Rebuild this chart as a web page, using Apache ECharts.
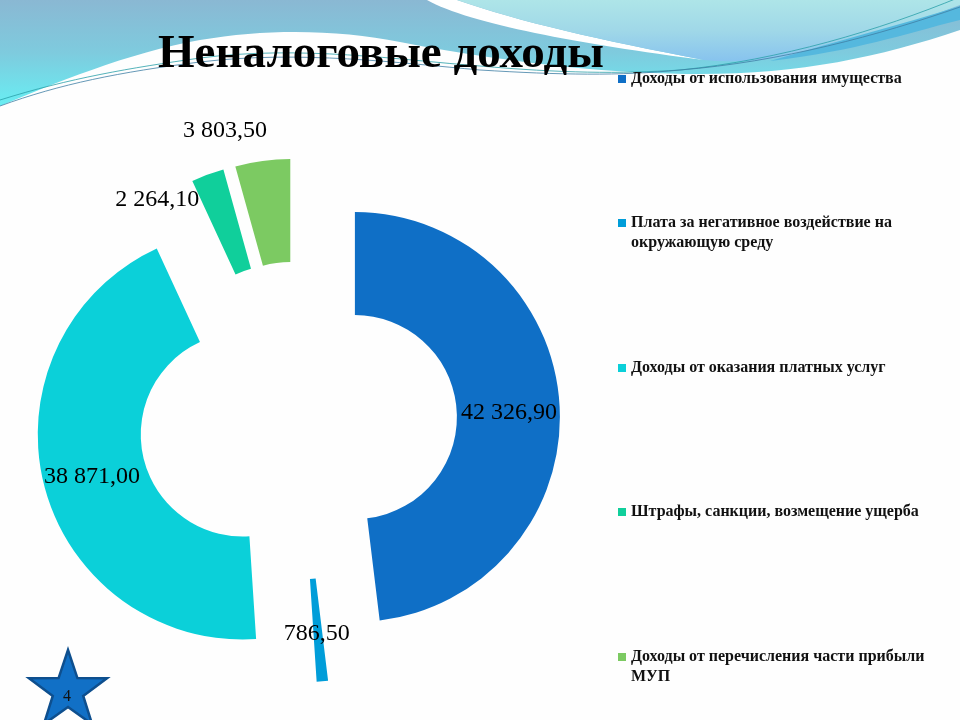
<!DOCTYPE html>
<html lang="ru">

<head>
    <meta charset="UTF-8">
    <title>Неналоговые доходы</title>
    <script src="https://cdn.jsdelivr.net/npm/echarts@6/dist/echarts.min.js"></script>
    <style>
        html, body { margin: 0; padding: 0; background: #fff; }
        #chart1 { width: 960px; height: 720px; }
    </style>
</head>

<body>
    <div id="chart1"></div>
    <script>
        const categories = [
            'Доходы от использования имущества',
            'Плата за негативное воздействие на\nокружающую среду',
            'Доходы от оказания платных услуг',
            'Штрафы, санкции, возмещение ущерба',
            'Доходы от перечисления части прибыли\nМУП'
        ];
        const values = [42326.9, 786.5, 38871, 2264.1, 3803.5];
        const colors = ['#0f6fc6', '#009dd9', '#0bd0d9', '#10cf9b', '#7cca62'];

        // moved labels of the small slices, px from their default place
        const labelShift = [[-2, 5], [-1, 1], [1, 4], [-67, -20], [-44, -78]];
        const legendTop = [64, 208, 353, 497, 642];

        const serif = '"Liberation Serif", serif';

        function formatValue(v) {
            const parts = v.toFixed(2).split('.');
            return parts[0].replace(/\B(?=(\d{3})+$)/g, ' ') + ',' + parts[1];
        }

        // square on the first line, empty point keeps the icon two lines tall
        const tallIcon = 'path://M0 0H8V8H0Z M0 28H0.01V28.01H0Z';

        // graphic component has no plain svg path type, so register one for the waves
        echarts.graphic.registerShape('wave', echarts.graphic.extendShape({
            shape: { d: [] },
            buildPath(ctx, shape) {
                shape.d.forEach((s) => {
                    if (s.length === 2) ctx.lineTo(s[0], s[1]);
                    else if (s.length === 6) ctx.bezierCurveTo(s[0], s[1], s[2], s[3], s[4], s[5]);
                    else if (s[0] === 'M') ctx.moveTo(s[1], s[2]);
                });
            }
        }));

        function starPoints(cx, cy, R, r) {
            const pts = [];
            for (let i = 0; i < 10; i++) {
                const a = Math.PI * i / 5;
                const d = i % 2 ? r : R;
                pts.push([cx + d * Math.sin(a), cy - d * Math.cos(a)]);
            }
            return pts;
        }

        const chart1 = echarts.init(document.getElementById('chart1'));
        chart1.setOption({
            animation: false,
            backgroundColor: '#fefefe',
            title: {
                text: 'Неналоговые доходы',
                left: 153,
                top: 26,
                textStyle: {
                    fontFamily: serif,
                    fontSize: 47,
                    fontWeight: 'bold',
                    color: '#000'
                }
            },
            legend: categories.map((name, i) => ({
                orient: 'vertical',
                left: 613,
                top: legendTop[i],
                itemWidth: 8,
                itemHeight: name.includes('\n') ? 28 : 8,
                selectedMode: false,
                data: [name.includes('\n') ? { name: name, icon: tallIcon } : { name: name, icon: 'rect' }],
                textStyle: {
                    fontFamily: serif,
                    fontSize: 16,
                    fontWeight: 'bold',
                    lineHeight: 20,
                    color: '#111'
                }
            })),
            graphic: [
                {
                    type: 'wave', z: -10, silent: true,
                    shape: { d: [['M', 0, 0], [960, 0], [960, 30], [880, 57, 800, 74, 700, 74], [620, 74, 520, 65, 400, 42], [340, 30, 270, 28, 200, 40], [130, 52, 50, 85, 0, 106], [0, 0]] },
                    style: {
                        fill: new echarts.graphic.LinearGradient(0, 0, 0, 1, [
                            { offset: 0, color: '#8ab8d3' },
                            { offset: 0.5, color: '#7ecbde' },
                            { offset: 1, color: '#68eef3' }
                        ])
                    }
                },
                {
                    type: 'wave', z: -9, silent: true,
                    shape: { d: [['M', 427, 0], [470, 24, 580, 44, 704, 60], [600, 40, 520, 22, 457, 0], [427, 0]] },
                    style: { fill: '#ffffff' }
                },
                {
                    type: 'wave', z: -9, silent: true,
                    shape: { d: [['M', 457, 0], [520, 22, 600, 40, 704, 60], [790, 68, 880, 35, 960, 5], [960, 0], [457, 0]] },
                    style: {
                        fill: new echarts.graphic.LinearGradient(0, 0, 0, 1, [
                            { offset: 0, color: '#aee5e8' },
                            { offset: 0.5, color: '#a0d8e8' },
                            { offset: 1, color: '#87c3ee' }
                        ])
                    }
                },
                {
                    type: 'wave', z: -8, silent: true,
                    shape: { d: [['M', 770, 61], [840, 40, 900, 25, 960, 6], [960, 20], [900, 35, 860, 50, 770, 61]] },
                    style: { fill: '#55b8de' }
                },
                {
                    type: 'wave', z: -7, silent: true,
                    shape: { d: [['M', 0, 100], [70, 78, 130, 68, 200, 58], [300, 45, 400, 60, 480, 66], [560, 73, 620, 74, 680, 70], [780, 60, 880, 30, 960, -3]] },
                    style: { fill: 'none', stroke: '#2a9fa8', lineWidth: 0.8 }
                },
                {
                    type: 'wave', z: -7, silent: true,
                    shape: { d: [['M', 0, 106], [60, 84, 120, 72, 200, 62], [300, 50, 400, 63, 480, 70], [560, 75, 620, 76, 680, 70], [780, 62, 880, 35, 960, 7]] },
                    style: { fill: 'none', stroke: '#3f7fa5', lineWidth: 0.8 }
                },
                {
                    type: 'polygon', silent: true,
                    shape: { points: starPoints(68, 691, 41, 16) },
                    style: { fill: '#1170c6', stroke: '#0e4f8e', lineWidth: 2.5 }
                },
                {
                    type: 'text', silent: true, z: 10,
                    x: 63, y: 689,
                    style: { text: '4', fill: '#111', font: '16px "Liberation Serif", serif' }
                }
            ],
            series: {
                type: 'pie',
                center: [298, 420.5],
                radius: [102, 205],
                startAngle: 90,
                selectedMode: 'multiple',
                selectedOffset: 57,
                silent: true,
                itemStyle: { borderWidth: 0 },
                emphasis: { disabled: true },
                label: {
                    position: 'inside',
                    fontFamily: serif,
                    fontSize: 24,
                    color: '#000',
                    formatter: (p) => formatValue(p.value)
                },
                labelLine: { show: false },
                labelLayout: (p) => ({ dx: labelShift[p.dataIndex][0], dy: labelShift[p.dataIndex][1] }),
                data: categories.map((name, i) => ({
                    name: name,
                    value: values[i],
                    selected: true,
                    itemStyle: { color: colors[i] }
                }))
            }
        });
    </script>
</body>

</html>
